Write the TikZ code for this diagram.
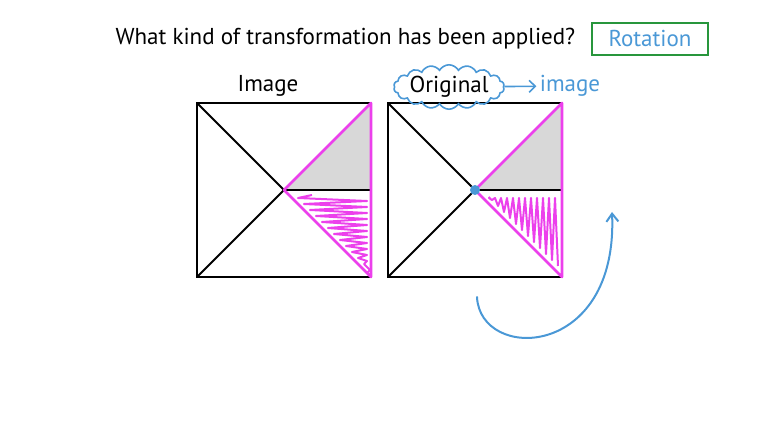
\documentclass[tikz,border=0pt]{standalone}
\usepackage{fontspec}
\setmainfont{PT Sans}
\usetikzlibrary{shapes.symbols,arrows.meta}

\definecolor{penmagenta}{RGB}{236,64,236}
\definecolor{penblue}{RGB}{74,152,214}
\definecolor{pengreen}{RGB}{40,150,60}
\definecolor{shadegrey}{RGB}{216,216,216}

\begin{document}
\begin{tikzpicture}[x=1pt,y=-1pt,
    edge/.style={line width=2pt},
    hilite/.style={draw=penmagenta,line width=2.6pt,line join=round},
    scribble/.style={penmagenta,line width=2pt,line join=round},
    label/.style={font=\fontsize{23}{25}\selectfont}]
  \useasboundingbox (0,0) rectangle (760,427);

  % question and answer
  \node[label,anchor=west] (question) at (112,39) {What kind of transformation has been applied?};
  \node[label,text=penblue,draw=pengreen,line width=2pt,inner sep=4pt,
        minimum width=116pt,minimum height=32pt] (answer) at (650,39) {Rotation};

  % the two squares
  \foreach \sq/\ox in {img/197,orig/388} {
      \coordinate (\sq-tl) at (\ox,103);
      \coordinate (\sq-tr) at (\ox+174,103);
      \coordinate (\sq-bl) at (\ox,277);
      \coordinate (\sq-br) at (\ox+174,277);
      \coordinate (\sq-c)  at (\ox+87,190);
      \coordinate (\sq-mr) at (\ox+174,190);
      \fill[shadegrey] (\sq-c) -- (\sq-tr) -- (\sq-mr) -- cycle;
      \draw[edge] (\sq-tl) rectangle (\sq-br);
      \draw[edge] (\sq-tl) -- (\sq-c) -- (\sq-bl);
      \draw[edge] (\sq-c) -- (\sq-mr);
  }

  % scribbled triangles
  \draw[scribble] (312,195) \foreach \t in {8,14,...,80} {
      -- ({284+\t+6},{190+\t}) -- (367,{190+\t+3}) };
  \draw[scribble] (490,197) \foreach \s in {14,20,...,80} {
      -- ({475+\s},{198}) -- ({475+\s+3},{190+\s-4}) };

  % magenta outlines
  \foreach \sq in {img,orig}
      \draw[hilite] (\sq-c) -- (\sq-tr) -- (\sq-br) -- cycle;

  % centre of rotation
  \fill[penblue] (orig-c) circle (5);

  % labels above the squares
  \node[label] (imglabel) at (268,86) {Image};
  \node[label,cloud,draw=penblue,line width=1.6pt,cloud puffs=18,cloud puff arc=120,
        aspect=3.2,inner sep=-1pt] (origlabel) at (449,87) {Original};
  \node[label,text=penblue] (imagelabel) at (570,86) {image};
  \draw[penblue,line width=1.6pt,-{Straight Barb[length=6pt]}]
      (origlabel) -- (imagelabel);

  % rotation arrow
  \coordinate (arcstart) at (477,297);
  \coordinate (arcend) at (612,212);
  \draw[penblue,line width=2pt,line cap=round,-{Straight Barb[length=8pt,width=12pt]}]
      (arcstart) .. controls (480,362) and (618,360) .. (arcend);
\end{tikzpicture}
\end{document}
